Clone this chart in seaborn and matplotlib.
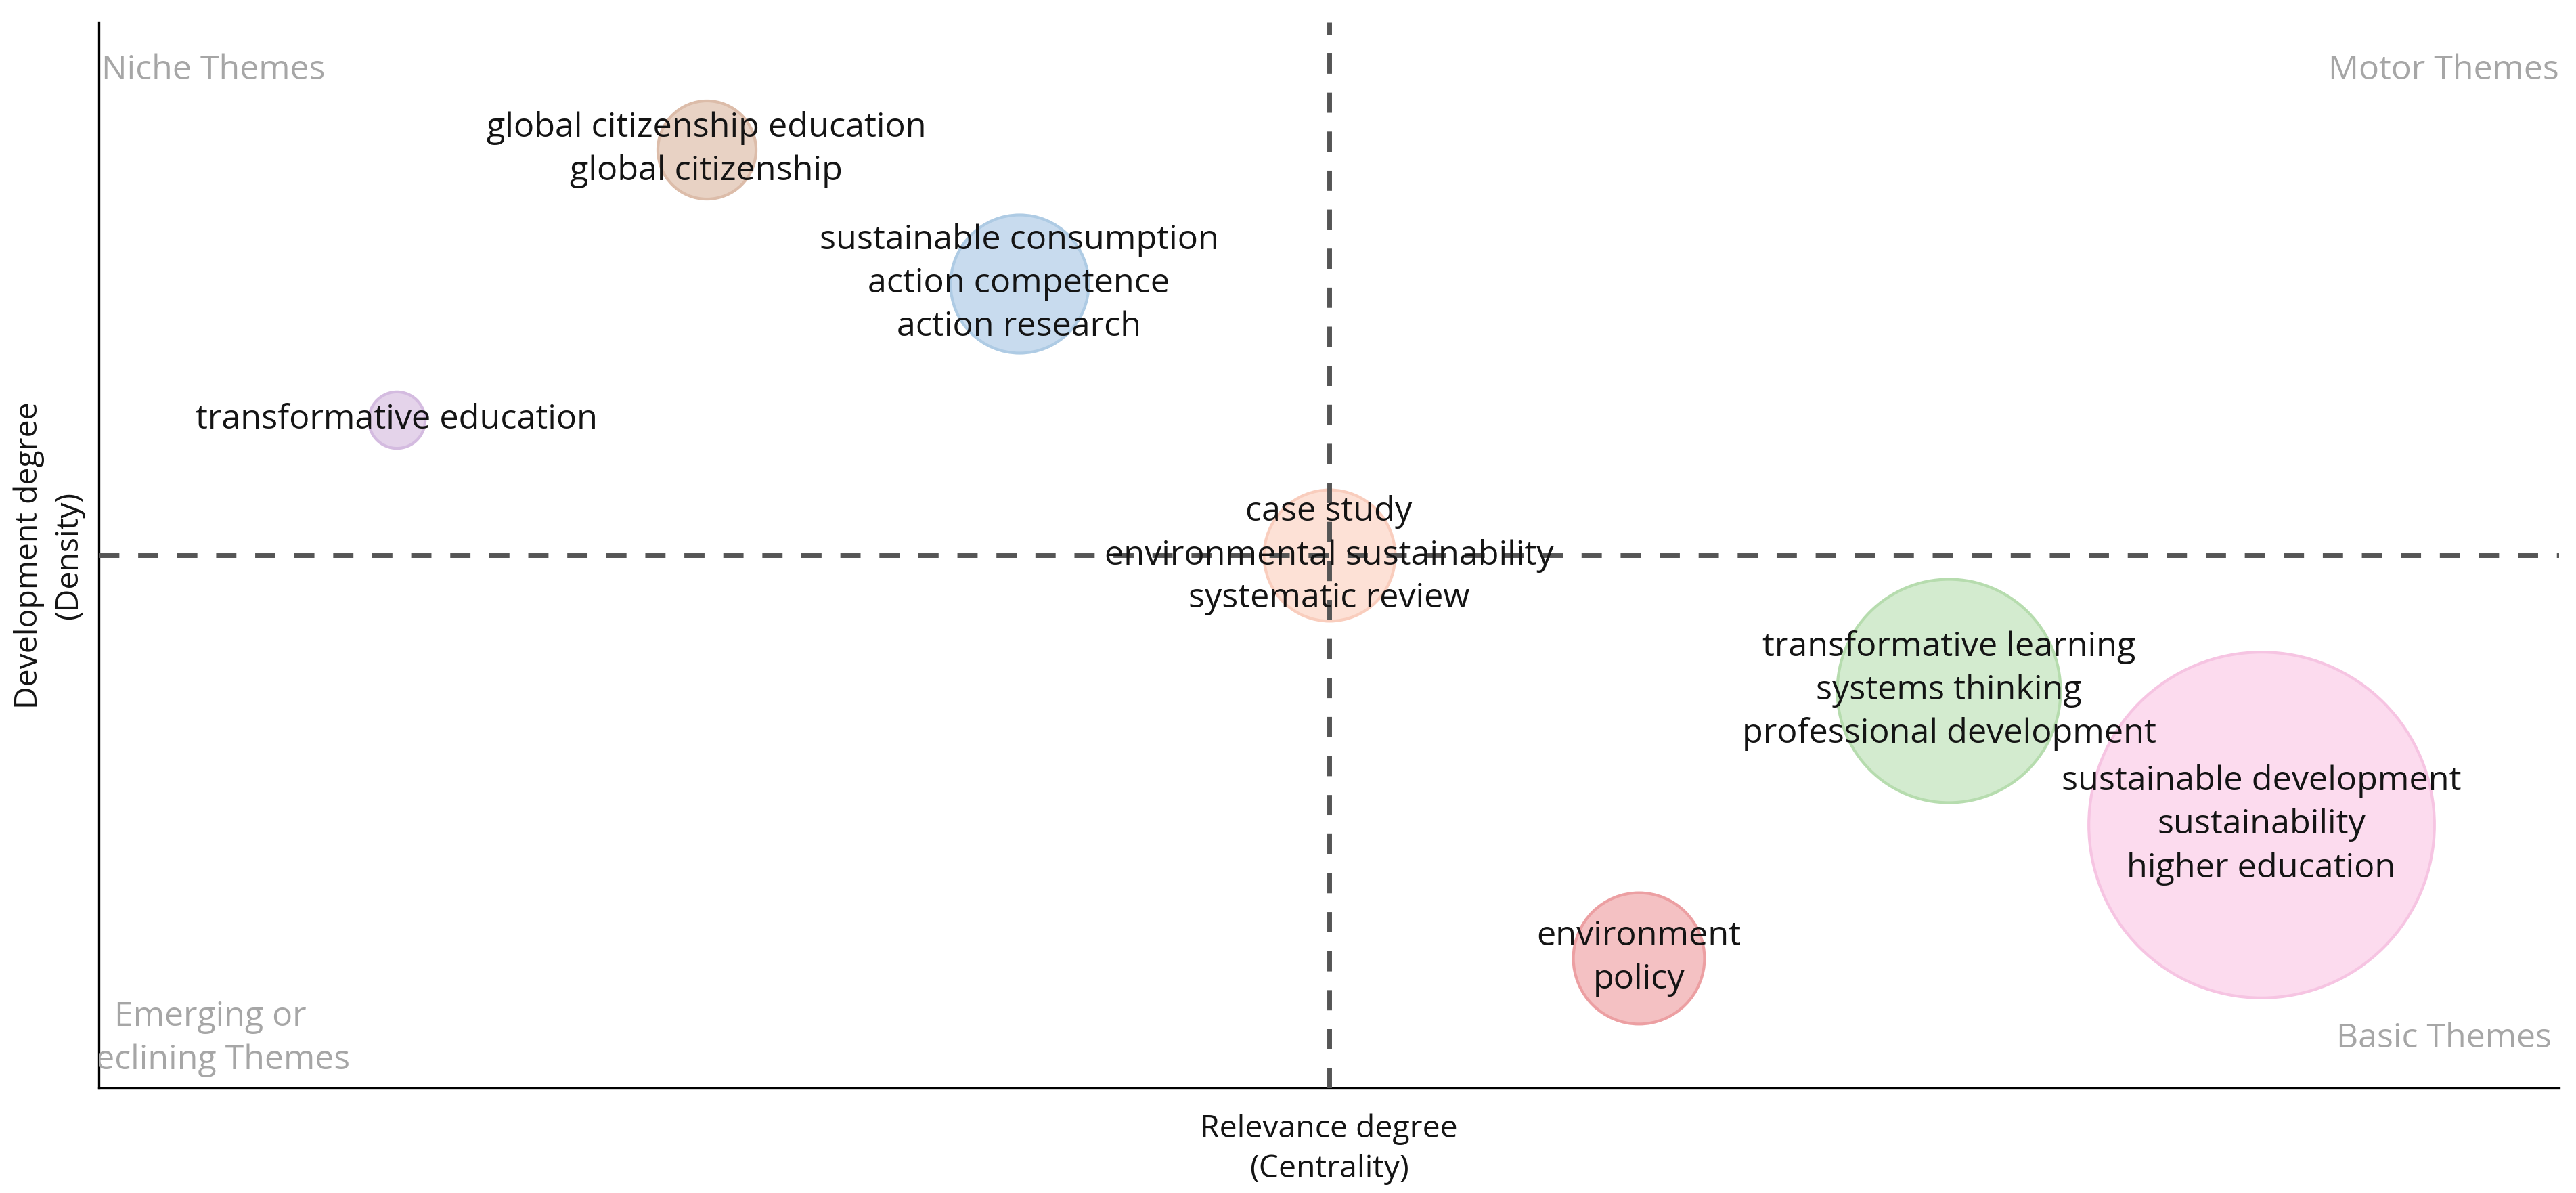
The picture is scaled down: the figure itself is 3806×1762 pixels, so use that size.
import pandas as pd
import matplotlib
matplotlib.use("Agg")
import matplotlib.pyplot as plt
import seaborn as sns

# theme clusters: labels, centrality (x), density (y), bubble size
clusters = [
    "global citizenship education\nglobal citizenship",
    "sustainable consumption\naction competence\naction research",
    "transformative education",
    "case study\nenvironmental sustainability\nsystematic review",
    "transformative learning\nsystems thinking\nprofessional development",
    "sustainable development\nsustainability\nhigher education",
    "environment\npolicy",
]
centrality = [2.47, 3.74, 1.21, 5.00, 7.52, 8.79, 6.26]
density = [8.81, 7.55, 6.27, 5.00, 3.73, 2.47, 1.22]
bubble_size = [88, 174, 29, 157, 455, 1090, 157]
fill_colors = ["#e8d2c4", "#c8dbee", "#e4d3ea", "#fde1d6", "#d3ebcf", "#fcdbee", "#f4c1c3"]
edge_colors = ["#dcbca9", "#aecbe4", "#d4bbe0", "#f9cdbd", "#b6dcae", "#f6c4e2", "#ec9fa2"]

quadrants = ["Niche Themes", "Motor Themes", "Emerging or\nDeclining Themes", "Basic Themes"]

df = pd.DataFrame({"label": clusters, "Centrality": centrality,
                   "Density": density, "size": bubble_size})

sns.set_theme(style="white")
plt.rcParams['font.family'] = ['Open Sans', 'DejaVu Sans']

fig = plt.figure(figsize=(38.06, 17.62), dpi=100)
ax = fig.add_axes([0.0384, 0.088, 0.955, 0.893])

# area of marker scales with size column
scale = 124.0
for i, row in df.iterrows():
    ax.scatter(row["Centrality"], row["Density"], s=row["size"] * scale,
               color=fill_colors[i], edgecolor=edge_colors[i], linewidth=3,
               zorder=2)

ax.axvline(5.0, color="#555555", linestyle=(0, (4.3, 4.0)), linewidth=5, zorder=3)
ax.axhline(5.0, color="#555555", linestyle=(0, (4.3, 4.0)), linewidth=5, zorder=3)

for i, row in df.iterrows():
    ax.text(row["Centrality"], row["Density"], row["label"], ha="center",
            va="center", fontsize=36.3, color="#141414", linespacing=1.38, zorder=4)

qcol = "#a6a6a6"
ax.text(0.001, 0.955, quadrants[0], transform=ax.transAxes, ha="left",
        va="center", fontsize=36, color=qcol)
ax.text(1.0, 0.955, quadrants[1], transform=ax.transAxes, ha="right",
        va="center", fontsize=36, color=qcol)
ax.text(0.0454, 0.046, quadrants[2], transform=ax.transAxes, ha="center",
        va="center", fontsize=36, color=qcol, linespacing=1.38, clip_on=True)
ax.text(0.997, 0.046, quadrants[3], transform=ax.transAxes, ha="right",
        va="center", fontsize=36, color=qcol)

ax.set_xlim(0, 10)
ax.set_ylim(0, 10)
ax.set_xticks([])
ax.set_yticks([])
ax.set_xlabel("Relevance degree\n(Centrality)", fontsize=33.4, color="#141414",
              labelpad=27, linespacing=1.38)
ax.set_ylabel("Development degree\n(Density)", fontsize=33.4, color="#141414",
              labelpad=15, linespacing=1.38)
sns.despine(ax=ax)
for side in ["left", "bottom"]:
    ax.spines[side].set_color("black")
    ax.spines[side].set_linewidth(2.4)

fig.savefig("out.png", dpi=100)
